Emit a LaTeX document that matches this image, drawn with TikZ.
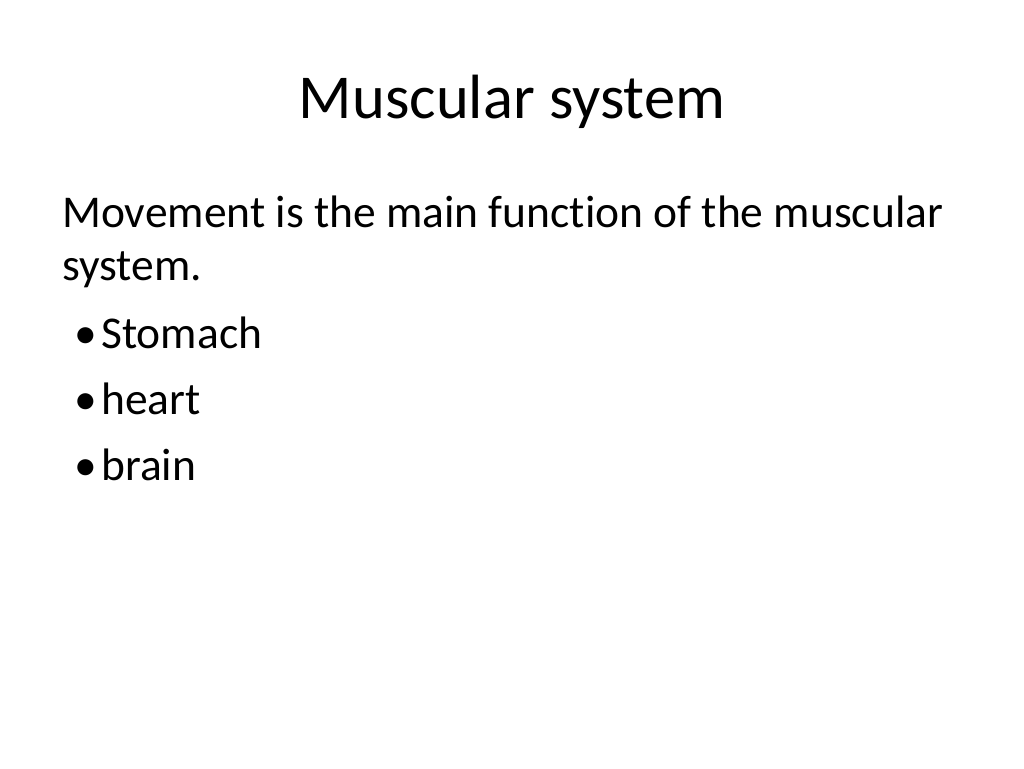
\documentclass[tikz,border=0pt]{standalone}
\usepackage{fontspec}
\setmainfont[Ligatures=NoCommon]{Carlito}
\begin{document}
\begin{tikzpicture}[x=1pt,y=-1pt,
  body/.style={anchor=base west,inner sep=0pt,font=\fontsize{45.5}{52}\selectfont}]
\useasboundingbox (0,0) rectangle (1024,768);
\node[anchor=base,inner sep=0pt,font=\fontsize{62.5}{70}\selectfont] (title) at (512,118) {Muscular system};
\node[body] (l1) at (62,227) {Movement is the main function of the muscular};
\node[body] (l2) at (62,280) {system.};
\node[body] (b1) at (74,348) {•};
\node[body] (s1) at (101,348) {Stomach};
\node[body] (b2) at (74,414) {•};
\node[body] (s2) at (101,414) {heart};
\node[body] (b3) at (74,480) {•};
\node[body] (s3) at (101,480) {brain};
\end{tikzpicture}
\end{document}
